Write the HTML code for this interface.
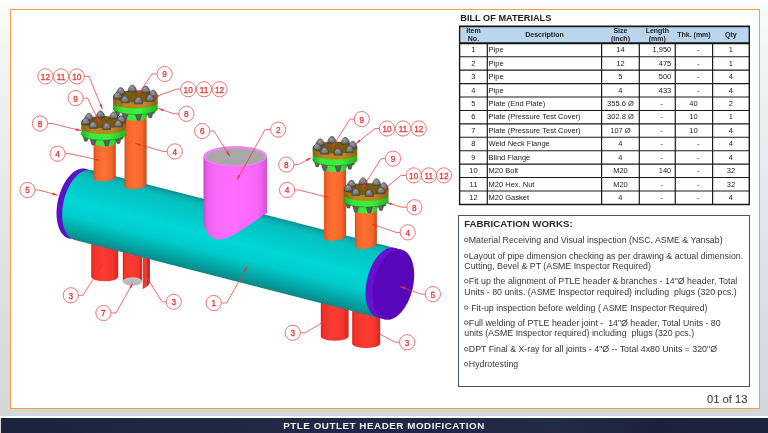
<!DOCTYPE html><html><head><meta charset="utf-8"><style>
*{margin:0;padding:0;box-sizing:border-box}
html,body{width:768px;height:433px;overflow:hidden}
body{position:relative;font-family:"Liberation Sans", sans-serif;background:linear-gradient(to bottom,#fefefe 0px,#fafbfb 12px,#f4f5f5 45px,#e9ebec 150px,#e2e5e6 220px,#d8dcdd 330px,#d3d7d8 415px,#d3d7d8 433px)}
.wrap{position:absolute;left:0;top:0;width:768px;height:433px;will-change:transform}
.abs{position:absolute;white-space:nowrap}
.frame{position:absolute;left:9.5px;top:8.5px;width:750.5px;height:400px;border:1.7px solid #f89d44;background:#ffffff}
.wline{position:absolute;left:0;top:415.5px;width:768px;height:2.5px;background:#ffffff}
.bar{position:absolute;left:1px;top:418px;width:767px;height:15px;background:linear-gradient(to right,#1c2340 0%,#212946 35%,#1f2744 55%,#232b4a 72%,#1c223e 86%,#1d2442 100%)}
.bartxt{position:absolute;left:0;top:418px;width:768px;text-align:center;color:#f2f2f2;font-weight:bold;font-size:9.8px;letter-spacing:0.54px;line-height:15px;padding-left:0px}
.tt{position:absolute;font-size:7.5px;color:#222;line-height:8px;white-space:nowrap}
.th{position:absolute;font-size:7px;font-weight:bold;color:#222;line-height:8.2px;text-align:center;white-space:nowrap}
.bul{display:inline-block;width:4.5px;height:1px}
.fab{position:absolute;font-size:8.8px;color:#363636;white-space:nowrap;line-height:10.5px}
</style></head><body><div class="wrap">
<div class="frame"></div>
<div class="wline"></div>
<div class="bar"></div>
<div class="bartxt">PTLE OUTLET HEADER MODIFICATION</div>
<div class="abs" style="left:460.3px;top:13.2px;font-size:9.2px;font-weight:bold;color:#1a1a1a;line-height:11px">BILL OF MATERIALS</div>
<svg class="abs" style="left:0;top:0" width="768" height="433" viewBox="0 0 768 433">
<rect x="459.60" y="25.80" width="289.70" height="17.50" fill="#bad5ee"/>
<line x1="459.00" y1="26.40" x2="749.90" y2="26.40" stroke="#1a1a1a" stroke-width="1.8"/>
<line x1="459.60" y1="43.30" x2="749.30" y2="43.30" stroke="#111" stroke-width="2"/>
<line x1="459.60" y1="56.73" x2="749.30" y2="56.73" stroke="#1a1a1a" stroke-width="1.1"/>
<line x1="459.60" y1="70.15" x2="749.30" y2="70.15" stroke="#1a1a1a" stroke-width="1.1"/>
<line x1="459.60" y1="83.58" x2="749.30" y2="83.58" stroke="#1a1a1a" stroke-width="1.1"/>
<line x1="459.60" y1="97.00" x2="749.30" y2="97.00" stroke="#1a1a1a" stroke-width="1.1"/>
<line x1="459.60" y1="110.43" x2="749.30" y2="110.43" stroke="#1a1a1a" stroke-width="1.1"/>
<line x1="459.60" y1="123.85" x2="749.30" y2="123.85" stroke="#1a1a1a" stroke-width="1.1"/>
<line x1="459.60" y1="137.28" x2="749.30" y2="137.28" stroke="#1a1a1a" stroke-width="1.1"/>
<line x1="459.60" y1="150.70" x2="749.30" y2="150.70" stroke="#1a1a1a" stroke-width="1.1"/>
<line x1="459.60" y1="164.12" x2="749.30" y2="164.12" stroke="#1a1a1a" stroke-width="1.1"/>
<line x1="459.60" y1="177.55" x2="749.30" y2="177.55" stroke="#1a1a1a" stroke-width="1.1"/>
<line x1="459.60" y1="190.98" x2="749.30" y2="190.98" stroke="#1a1a1a" stroke-width="1.1"/>
<line x1="458.90" y1="204.40" x2="750.00" y2="204.40" stroke="#1a1a1a" stroke-width="1.5"/>
<line x1="459.60" y1="25.80" x2="459.60" y2="204.40" stroke="#1a1a1a" stroke-width="1.4"/>
<line x1="749.30" y1="25.80" x2="749.30" y2="204.40" stroke="#1a1a1a" stroke-width="1.4"/>
<line x1="487.30" y1="43.30" x2="487.30" y2="204.40" stroke="#1a1a1a" stroke-width="1.2"/>
<line x1="601.60" y1="43.30" x2="601.60" y2="204.40" stroke="#1a1a1a" stroke-width="1.2"/>
<line x1="639.30" y1="43.30" x2="639.30" y2="204.40" stroke="#1a1a1a" stroke-width="1.2"/>
<line x1="675.30" y1="43.30" x2="675.30" y2="204.40" stroke="#1a1a1a" stroke-width="1.2"/>
<line x1="712.60" y1="43.30" x2="712.60" y2="204.40" stroke="#1a1a1a" stroke-width="1.2"/>
</svg>
<div class="th" style="left:459.60px;width:27.70px;top:26.60px">Item<br>No.</div>
<div class="th" style="left:487.30px;width:114.30px;top:30.60px">Description</div>
<div class="th" style="left:601.60px;width:37.70px;top:26.60px">Size<br>(inch)</div>
<div class="th" style="left:639.30px;width:36.00px;top:26.60px">Length<br>(mm)</div>
<div class="th" style="left:675.30px;width:37.30px;top:30.60px">Thk. (mm)</div>
<div class="th" style="left:712.60px;width:36.70px;top:30.60px">Qty</div>
<div class="tt" style="left:459.60px;width:27.70px;top:46.30px;text-align:center">1</div>
<div class="tt" style="left:488.60px;top:46.30px">Pipe</div>
<div class="tt" style="left:601.60px;width:37.70px;top:46.30px;text-align:center">14</div>
<div class="tt" style="left:639.30px;width:32.00px;top:46.30px;text-align:right">1,950</div>
<div class="tt" style="left:688.20px;width:20px;top:46.30px;text-align:center">-</div>
<div class="tt" style="left:712.60px;width:36.70px;top:46.30px;text-align:center">1</div>
<div class="tt" style="left:459.60px;width:27.70px;top:59.73px;text-align:center">2</div>
<div class="tt" style="left:488.60px;top:59.73px">Pipe</div>
<div class="tt" style="left:601.60px;width:37.70px;top:59.73px;text-align:center">12</div>
<div class="tt" style="left:639.30px;width:32.00px;top:59.73px;text-align:right">475</div>
<div class="tt" style="left:688.20px;width:20px;top:59.73px;text-align:center">-</div>
<div class="tt" style="left:712.60px;width:36.70px;top:59.73px;text-align:center">1</div>
<div class="tt" style="left:459.60px;width:27.70px;top:73.15px;text-align:center">3</div>
<div class="tt" style="left:488.60px;top:73.15px">Pipe</div>
<div class="tt" style="left:601.60px;width:37.70px;top:73.15px;text-align:center">5</div>
<div class="tt" style="left:639.30px;width:32.00px;top:73.15px;text-align:right">500</div>
<div class="tt" style="left:688.20px;width:20px;top:73.15px;text-align:center">-</div>
<div class="tt" style="left:712.60px;width:36.70px;top:73.15px;text-align:center">4</div>
<div class="tt" style="left:459.60px;width:27.70px;top:86.58px;text-align:center">4</div>
<div class="tt" style="left:488.60px;top:86.58px">Pipe</div>
<div class="tt" style="left:601.60px;width:37.70px;top:86.58px;text-align:center">4</div>
<div class="tt" style="left:639.30px;width:32.00px;top:86.58px;text-align:right">433</div>
<div class="tt" style="left:688.20px;width:20px;top:86.58px;text-align:center">-</div>
<div class="tt" style="left:712.60px;width:36.70px;top:86.58px;text-align:center">4</div>
<div class="tt" style="left:459.60px;width:27.70px;top:100.00px;text-align:center">5</div>
<div class="tt" style="left:488.60px;top:100.00px">Plate (End Plate)</div>
<div class="tt" style="left:601.60px;width:37.70px;top:100.00px;text-align:center">355.6 &Oslash;</div>
<div class="tt" style="left:651.50px;width:20px;top:100.00px;text-align:center">-</div>
<div class="tt" style="left:683.40px;width:20px;top:100.00px;text-align:center">40</div>
<div class="tt" style="left:712.60px;width:36.70px;top:100.00px;text-align:center">2</div>
<div class="tt" style="left:459.60px;width:27.70px;top:113.43px;text-align:center">6</div>
<div class="tt" style="left:488.60px;top:113.43px">Plate (Pressure Test Cover)</div>
<div class="tt" style="left:601.60px;width:37.70px;top:113.43px;text-align:center">302.8 &Oslash;</div>
<div class="tt" style="left:651.50px;width:20px;top:113.43px;text-align:center">-</div>
<div class="tt" style="left:683.40px;width:20px;top:113.43px;text-align:center">10</div>
<div class="tt" style="left:712.60px;width:36.70px;top:113.43px;text-align:center">1</div>
<div class="tt" style="left:459.60px;width:27.70px;top:126.85px;text-align:center">7</div>
<div class="tt" style="left:488.60px;top:126.85px">Plate (Pressure Test Cover)</div>
<div class="tt" style="left:601.60px;width:37.70px;top:126.85px;text-align:center">107 &Oslash;</div>
<div class="tt" style="left:651.50px;width:20px;top:126.85px;text-align:center">-</div>
<div class="tt" style="left:683.40px;width:20px;top:126.85px;text-align:center">10</div>
<div class="tt" style="left:712.60px;width:36.70px;top:126.85px;text-align:center">4</div>
<div class="tt" style="left:459.60px;width:27.70px;top:140.28px;text-align:center">8</div>
<div class="tt" style="left:488.60px;top:140.28px">Weld Neck Flange</div>
<div class="tt" style="left:601.60px;width:37.70px;top:140.28px;text-align:center">4</div>
<div class="tt" style="left:651.50px;width:20px;top:140.28px;text-align:center">-</div>
<div class="tt" style="left:688.20px;width:20px;top:140.28px;text-align:center">-</div>
<div class="tt" style="left:712.60px;width:36.70px;top:140.28px;text-align:center">4</div>
<div class="tt" style="left:459.60px;width:27.70px;top:153.70px;text-align:center">9</div>
<div class="tt" style="left:488.60px;top:153.70px">Blind Flange</div>
<div class="tt" style="left:601.60px;width:37.70px;top:153.70px;text-align:center">4</div>
<div class="tt" style="left:651.50px;width:20px;top:153.70px;text-align:center">-</div>
<div class="tt" style="left:688.20px;width:20px;top:153.70px;text-align:center">-</div>
<div class="tt" style="left:712.60px;width:36.70px;top:153.70px;text-align:center">4</div>
<div class="tt" style="left:459.60px;width:27.70px;top:167.12px;text-align:center">10</div>
<div class="tt" style="left:488.60px;top:167.12px">M20 Bolt</div>
<div class="tt" style="left:601.60px;width:37.70px;top:167.12px;text-align:center">M20</div>
<div class="tt" style="left:639.30px;width:32.00px;top:167.12px;text-align:right">140</div>
<div class="tt" style="left:688.20px;width:20px;top:167.12px;text-align:center">-</div>
<div class="tt" style="left:712.60px;width:36.70px;top:167.12px;text-align:center">32</div>
<div class="tt" style="left:459.60px;width:27.70px;top:180.55px;text-align:center">11</div>
<div class="tt" style="left:488.60px;top:180.55px">M20 Hex. Nut</div>
<div class="tt" style="left:601.60px;width:37.70px;top:180.55px;text-align:center">M20</div>
<div class="tt" style="left:651.50px;width:20px;top:180.55px;text-align:center">-</div>
<div class="tt" style="left:688.20px;width:20px;top:180.55px;text-align:center">-</div>
<div class="tt" style="left:712.60px;width:36.70px;top:180.55px;text-align:center">32</div>
<div class="tt" style="left:459.60px;width:27.70px;top:193.98px;text-align:center">12</div>
<div class="tt" style="left:488.60px;top:193.98px">M20 Gasket</div>
<div class="tt" style="left:601.60px;width:37.70px;top:193.98px;text-align:center">4</div>
<div class="tt" style="left:651.50px;width:20px;top:193.98px;text-align:center">-</div>
<div class="tt" style="left:688.20px;width:20px;top:193.98px;text-align:center">-</div>
<div class="tt" style="left:712.60px;width:36.70px;top:193.98px;text-align:center">4</div>
<div class="abs" style="left:458.2px;top:215.3px;width:291.8px;height:172.2px;border:1.5px solid #4d5170"></div>
<div class="abs" style="left:464.2px;top:218.3px;font-size:9.7px;font-weight:bold;color:#2a2a2a;line-height:11px">FABRICATION WORKS:</div>
<div class="fab" style="left:464.3px;top:234.80px"><i class="bul"></i>Material Receiving and Visual inspection (NSC, ASME &amp; Yansab)</div>
<div class="fab" style="left:464.3px;top:250.70px"><i class="bul"></i>Layout of pipe dimension checking as per drawing &amp; actual dimension.</div>
<div class="fab" style="left:464.3px;top:261.00px">Cutting, Bevel &amp; PT (ASME Inspector Required)</div>
<div class="fab" style="left:464.3px;top:276.10px"><i class="bul"></i>Fit up the alignment of PTLE header &amp; branches - 14&quot;&Oslash; header, Total</div>
<div class="fab" style="left:464.3px;top:286.70px">Units - 80 units. (ASME Inspector required) including&nbsp; plugs (320 pcs.)</div>
<div class="fab" style="left:464.3px;top:302.50px"><i class="bul"></i> Fit-up inspection before welding ( ASME Inspector Required)</div>
<div class="fab" style="left:464.3px;top:317.50px"><i class="bul"></i>Full welding of PTLE header joint -&nbsp; 14&quot;&Oslash; header, Total Units - 80</div>
<div class="fab" style="left:464.3px;top:327.90px">units (ASME Inspector required) including&nbsp; plugs (320 pcs.)</div>
<div class="fab" style="left:464.3px;top:344.10px"><i class="bul"></i>DPT Final &amp; X-ray for all joints - 4&quot;&Oslash; -- Total 4x80 Units = 320&quot;&Oslash;</div>
<div class="fab" style="left:464.3px;top:359.10px"><i class="bul"></i>Hydrotesting</div>
<svg class="abs" style="left:0;top:0" width="768" height="433" viewBox="0 0 768 433"><circle cx="466.2" cy="239.90" r="1.75" fill="none" stroke="#4a4a4a" stroke-width="0.85"/><circle cx="466.2" cy="255.80" r="1.75" fill="none" stroke="#4a4a4a" stroke-width="0.85"/><circle cx="466.2" cy="281.20" r="1.75" fill="none" stroke="#4a4a4a" stroke-width="0.85"/><circle cx="466.2" cy="307.60" r="1.75" fill="none" stroke="#4a4a4a" stroke-width="0.85"/><circle cx="466.2" cy="322.60" r="1.75" fill="none" stroke="#4a4a4a" stroke-width="0.85"/><circle cx="466.2" cy="349.20" r="1.75" fill="none" stroke="#4a4a4a" stroke-width="0.85"/><circle cx="466.2" cy="364.20" r="1.75" fill="none" stroke="#4a4a4a" stroke-width="0.85"/></svg>
<div class="abs" style="right:20.6px;top:393.4px;font-size:11.2px;color:#474747;line-height:13px;-webkit-text-stroke:0.15px #474747">01 of 13</div>
<svg style="position:absolute;left:0;top:0" width="768" height="433" viewBox="0 0 768 433">
<defs>
<linearGradient id="gRed" x1="0" y1="0" x2="1" y2="0"><stop offset="0" stop-color="#d8241e"/><stop offset="0.1" stop-color="#f2322a"/><stop offset="0.45" stop-color="#fd3c34"/><stop offset="0.8" stop-color="#f5352c"/><stop offset="1" stop-color="#d2261e"/></linearGradient>
<linearGradient id="gOr" x1="0" y1="0" x2="1" y2="0"><stop offset="0" stop-color="#d9521e"/><stop offset="0.15" stop-color="#f56628"/><stop offset="0.45" stop-color="#ff7234"/><stop offset="0.8" stop-color="#f4662a"/><stop offset="1" stop-color="#c84a18"/></linearGradient>
<linearGradient id="gMag" x1="0" y1="0" x2="1" y2="0"><stop offset="0" stop-color="#c84ac8"/><stop offset="0.06" stop-color="#ec5eec"/><stop offset="0.18" stop-color="#fa68fa"/><stop offset="0.5" stop-color="#ff6eff"/><stop offset="0.85" stop-color="#f866f8"/><stop offset="1" stop-color="#d650d6"/></linearGradient>
<linearGradient id="gTeal" gradientUnits="userSpaceOnUse" x1="208.8" y1="200.3" x2="191" y2="270.1"><stop offset="0" stop-color="#0c8e8e"/><stop offset="0.05" stop-color="#0aaeae"/><stop offset="0.12" stop-color="#06c0c0"/><stop offset="0.25" stop-color="#02c8c8"/><stop offset="0.48" stop-color="#00d6d6"/><stop offset="0.68" stop-color="#00cccc"/><stop offset="0.85" stop-color="#00aaaa"/><stop offset="1" stop-color="#0c8686"/></linearGradient>
<linearGradient id="gGreen" x1="0" y1="0" x2="1" y2="0"><stop offset="0" stop-color="#20b020"/><stop offset="0.2" stop-color="#38e838"/><stop offset="0.6" stop-color="#40f040"/><stop offset="1" stop-color="#22b422"/></linearGradient>
<linearGradient id="gBrSide" x1="0" y1="0" x2="1" y2="0"><stop offset="0" stop-color="#8c6212"/><stop offset="0.25" stop-color="#b4881e"/><stop offset="0.7" stop-color="#b88a20"/><stop offset="1" stop-color="#8c6212"/></linearGradient>
<radialGradient id="gBolt" cx="0.4" cy="0.35" r="0.7"><stop offset="0" stop-color="#a0a0a0"/><stop offset="0.6" stop-color="#707070"/><stop offset="1" stop-color="#505050"/></radialGradient>
</defs>
<path d="M91.2,230 L91.2,276.5 A13.5,4.8 0 0 0 118.2,276.5 L118.2,230 Z" fill="url(#gRed)" />
<path d="M122.8,232 L122.8,281.6 L142.2,281.6 L142.2,232 Z" fill="url(#gRed)"/>
<path d="M142.2,232 L142.2,289.2 Q147.5,287.2 149.8,282.2 L149.8,232 Z" fill="#e83a32"/>
<path d="M149.8,240 L149.8,282.2 Q148.6,285 147.2,286.5 L147.2,240 Z" fill="#c42a24"/>
<ellipse cx="132.5" cy="281.6" rx="9.7" ry="4.2" fill="#bcbcbc"/>
<path d="M123.4,281.6 A9.1,3.6 0 0 1 141.6,281.6" fill="none" stroke="#d0d0d0" stroke-width="0.8"/>
<path d="M142.5,250 L142.5,289" stroke="#f0d0d0" stroke-width="0.9"/>
<path d="M320.8,280 L320.8,336.2 A13.9,4.6 0 0 0 348.6,336.2 L348.6,280 Z" fill="url(#gRed)" />
<path d="M352.2,290 L352.2,343.4 A14,4.6 0 0 0 380.2,343.4 L380.2,290 Z" fill="url(#gRed)" />
<path d="M85.72,168.68 L87.36,169.21 L88.92,170 L90.4,171.05 L91.77,172.34 L93.04,173.88 L94.19,175.64 L95.21,177.61 L96.09,179.78 L96.83,182.13 L97.43,184.65 L97.87,187.31 L98.16,190.09 L98.28,192.98 L98.25,195.95 L98.06,198.97 L97.72,202.03 L97.22,205.1 L96.56,208.17 L95.77,211.19 L94.83,214.16 L93.76,217.05 L92.56,219.83 L91.25,222.5 L89.84,225.02 L88.33,227.37 L86.73,229.55 L85.07,231.52 L83.34,233.29 L81.58,234.83 L79.78,236.13 L77.96,237.18 L76.14,237.98 L74.32,238.51 L72.53,238.78 L70.78,238.79 L69.08,238.52 L67.44,237.99 L65.88,237.2 L64.4,236.15 L63.03,234.86 L61.76,233.32 L60.61,231.56 L59.59,229.59 L58.71,227.42 L57.97,225.07 L57.37,222.55 L56.93,219.89 L56.64,217.11 L56.52,214.22 L56.55,211.25 L56.74,208.23 L57.08,205.17 L57.58,202.1 L58.24,199.03 L59.03,196.01 L59.97,193.04 L61.04,190.15 L62.24,187.37 L63.55,184.7 L64.96,182.18 L66.47,179.83 L68.07,177.65 L69.73,175.68 L71.46,173.91 L73.22,172.37 L75.02,171.07 L76.84,170.02 L78.66,169.22 L80.48,168.69 L82.27,168.42 L84.02,168.41Z" fill="#5c10c8"/>
<path d="M91.34,170.11 L394.84,247.94 L378.2,317.79 L74.7,239.96 L74.04,239.78 L73.38,239.56 L72.74,239.29 L72.11,238.98 L71.5,238.64 L70.9,238.25 L70.31,237.82 L69.74,237.35 L69.19,236.84 L68.65,236.29 L68.13,235.71 L67.62,235.08 L67.14,234.42 L66.68,233.73 L66.23,233 L65.81,232.23 L65.41,231.44 L65.02,230.61 L64.67,229.74 L64.33,228.85 L64.01,227.93 L63.72,226.99 L63.46,226.01 L63.21,225.01 L62.99,223.99 L62.8,222.94 L62.63,221.87 L62.48,220.78 L62.36,219.67 L62.26,218.54 L62.19,217.4 L62.15,216.24 L62.13,215.07 L62.13,213.89 L62.17,212.69 L62.22,211.49 L62.31,210.27 L62.41,209.05 L62.54,207.83 L62.7,206.6 L62.88,205.38 L63.09,204.15 L63.32,202.92 L63.58,201.69 L63.86,200.47 L64.16,199.25 L64.48,198.05 L64.83,196.85 L65.2,195.65 L65.59,194.48 L66,193.31 L66.44,192.16 L66.89,191.02 L67.36,189.9 L67.86,188.8 L68.37,187.72 L68.9,186.66 L69.44,185.62 L70,184.61 L70.58,183.62 L71.18,182.66 L71.78,181.72 L72.41,180.82 L73.04,179.94 L73.69,179.09 L74.35,178.28 L75.01,177.49 L75.69,176.74 L76.38,176.03 L77.07,175.35 L77.78,174.71 L78.49,174.1 L79.2,173.53 L79.92,173 L80.64,172.51 L81.37,172.06 L82.1,171.65 L82.83,171.28 L83.55,170.95 L84.28,170.66 L85.01,170.41 L85.73,170.21 L86.46,170.05 L87.17,169.93 L87.89,169.85 L88.59,169.82 L89.29,169.83 L89.98,169.88 L90.67,169.98 L91.34,170.11Z" fill="url(#gTeal)"/>
<path d="M394.84,247.94 L395.5,248.12 L396.15,248.35 L396.8,248.61 L397.42,248.92 L398.04,249.27 L398.64,249.66 L399.23,250.09 L399.8,250.56 L400.35,251.06 L400.89,251.61 L401.41,252.2 L401.91,252.82 L402.4,253.48 L402.86,254.18 L403.3,254.91 L403.73,255.67 L404.13,256.47 L404.51,257.3 L404.87,258.16 L405.21,259.05 L405.52,259.97 L405.81,260.92 L406.08,261.89 L406.33,262.89 L406.55,263.92 L406.74,264.96 L406.91,266.03 L407.06,267.12 L407.18,268.23 L407.27,269.36 L407.34,270.5 L407.39,271.66 L407.41,272.83 L407.4,274.02 L407.37,275.21 L407.31,276.42 L407.23,277.63 L407.12,278.85 L406.99,280.07 L406.83,281.3 L406.65,282.53 L406.45,283.76 L406.22,284.99 L405.96,286.21 L405.68,287.43 L405.38,288.65 L405.05,289.86 L404.71,291.06 L404.34,292.25 L403.95,293.43 L403.53,294.59 L403.1,295.75 L402.65,296.88 L402.17,298 L401.68,299.1 L401.17,300.18 L400.64,301.24 L400.09,302.28 L399.53,303.29 L398.95,304.28 L398.36,305.24 L397.75,306.18 L397.13,307.09 L396.5,307.96 L395.85,308.81 L395.19,309.63 L394.52,310.41 L393.85,311.16 L393.16,311.87 L392.46,312.55 L391.76,313.2 L391.05,313.8 L390.34,314.37 L389.62,314.9 L388.89,315.39 L388.17,315.85 L387.44,316.26 L386.71,316.63 L385.98,316.96 L385.25,317.24 L384.53,317.49 L383.8,317.7 L383.08,317.86 L382.36,317.98 L381.65,318.05 L380.95,318.08 L380.25,318.08 L379.56,318.02 L378.87,317.93 L378.2,317.79 L377.53,317.61 L376.88,317.39 L376.24,317.12 L375.61,316.81 L375,316.47 L374.4,316.08 L373.81,315.65 L373.24,315.18 L372.68,314.67 L372.15,314.12 L371.62,313.54 L371.12,312.91 L370.64,312.25 L370.17,311.56 L369.73,310.83 L369.31,310.06 L368.9,309.27 L368.52,308.44 L368.16,307.58 L367.83,306.68 L367.51,305.76 L367.22,304.82 L366.95,303.84 L366.71,302.84 L366.49,301.82 L366.29,300.77 L366.12,299.7 L365.98,298.61 L365.86,297.5 L365.76,296.37 L365.69,295.23 L365.65,294.07 L365.63,292.9 L365.63,291.72 L365.66,290.52 L365.72,289.32 L365.8,288.1 L365.91,286.89 L366.04,285.66 L366.2,284.43 L366.38,283.21 L366.59,281.98 L366.82,280.75 L367.08,279.52 L367.35,278.3 L367.66,277.09 L367.98,275.88 L368.33,274.68 L368.7,273.49 L369.09,272.31 L369.5,271.14 L369.94,269.99 L370.39,268.85 L370.86,267.73 L371.36,266.63 L371.87,265.55 L372.39,264.49 L372.94,263.45 L373.5,262.44 L374.08,261.45 L374.67,260.49 L375.28,259.55 L375.9,258.65 L376.54,257.77 L377.19,256.92 L377.84,256.11 L378.51,255.32 L379.19,254.57 L379.88,253.86 L380.57,253.18 L381.28,252.54 L381.98,251.93 L382.7,251.36 L383.42,250.83 L384.14,250.34 L384.87,249.89 L385.59,249.48 L386.32,249.11 L387.05,248.78 L387.78,248.49 L388.51,248.24 L389.23,248.04 L389.95,247.88 L390.67,247.76 L391.38,247.68 L392.09,247.65 L392.79,247.66 L393.48,247.71 L394.16,247.81Z" fill="#6412d0"/>
<path d="M394.84,247.94 L401.62,249.68 L384.98,319.52 L378.2,317.79Z" fill="#6412d0"/>
<path d="M401.62,249.68 L402.28,249.86 L402.94,250.08 L403.58,250.35 L404.21,250.65 L404.82,251 L405.42,251.39 L406.01,251.82 L406.58,252.29 L407.13,252.8 L407.67,253.34 L408.19,253.93 L408.7,254.55 L409.18,255.21 L409.64,255.91 L410.09,256.64 L410.51,257.4 L410.91,258.2 L411.29,259.03 L411.65,259.89 L411.99,260.78 L412.31,261.7 L412.6,262.65 L412.86,263.62 L413.11,264.62 L413.33,265.65 L413.52,266.7 L413.69,267.77 L413.84,268.86 L413.96,269.97 L414.06,271.09 L414.13,272.24 L414.17,273.39 L414.19,274.57 L414.18,275.75 L414.15,276.95 L414.1,278.15 L414.01,279.36 L413.91,280.58 L413.77,281.8 L413.62,283.03 L413.44,284.26 L413.23,285.49 L413,286.72 L412.74,287.94 L412.46,289.17 L412.16,290.38 L411.84,291.59 L411.49,292.79 L411.12,293.98 L410.73,295.16 L410.32,296.33 L409.88,297.48 L409.43,298.61 L408.95,299.73 L408.46,300.83 L407.95,301.92 L407.42,302.98 L406.88,304.01 L406.31,305.03 L405.74,306.02 L405.14,306.98 L404.54,307.91 L403.91,308.82 L403.28,309.7 L402.63,310.55 L401.97,311.36 L401.31,312.14 L400.63,312.89 L399.94,313.61 L399.24,314.29 L398.54,314.93 L397.83,315.54 L397.12,316.11 L396.4,316.64 L395.68,317.13 L394.95,317.58 L394.22,317.99 L393.49,318.36 L392.76,318.69 L392.04,318.98 L391.31,319.22 L390.58,319.43 L389.86,319.59 L389.15,319.71 L388.43,319.78 L387.73,319.82 L387.03,319.81 L386.34,319.76 L385.65,319.66 L384.98,319.52 L384.32,319.34 L383.66,319.12 L383.02,318.85 L382.39,318.55 L381.78,318.2 L381.18,317.81 L380.59,317.38 L380.02,316.91 L379.47,316.4 L378.93,315.86 L378.41,315.27 L377.9,314.65 L377.42,313.99 L376.96,313.29 L376.51,312.56 L376.09,311.8 L375.69,311 L375.31,310.17 L374.95,309.31 L374.61,308.42 L374.29,307.5 L374,306.55 L373.74,305.58 L373.49,304.58 L373.27,303.55 L373.08,302.5 L372.91,301.43 L372.76,300.34 L372.64,299.23 L372.54,298.11 L372.47,296.96 L372.43,295.81 L372.41,294.63 L372.42,293.45 L372.45,292.25 L372.5,291.05 L372.59,289.84 L372.69,288.62 L372.83,287.4 L372.98,286.17 L373.16,284.94 L373.37,283.71 L373.6,282.48 L373.86,281.26 L374.14,280.03 L374.44,278.82 L374.76,277.61 L375.11,276.41 L375.48,275.22 L375.87,274.04 L376.28,272.87 L376.72,271.72 L377.17,270.59 L377.65,269.47 L378.14,268.37 L378.65,267.28 L379.18,266.22 L379.72,265.19 L380.29,264.17 L380.86,263.18 L381.46,262.22 L382.06,261.29 L382.69,260.38 L383.32,259.5 L383.97,258.65 L384.63,257.84 L385.29,257.06 L385.97,256.31 L386.66,255.59 L387.36,254.91 L388.06,254.27 L388.77,253.66 L389.48,253.09 L390.2,252.56 L390.92,252.07 L391.65,251.62 L392.38,251.21 L393.11,250.84 L393.84,250.51 L394.56,250.22 L395.29,249.98 L396.02,249.77 L396.74,249.61 L397.45,249.49 L398.17,249.42 L398.87,249.38 L399.57,249.39 L400.26,249.44 L400.95,249.54Z" fill="#5806ba"/>
<path d="M124.5,115 L124.5,186.4 A11.05,4 -6.97 0 0 146.6,183.7 L146.6,115 Z" fill="url(#gOr)"/>
<path d="M120.4,108.4 L124.5,117.4 A11.05,3.4 0 0 0 146.6,117.4 L150.4,108.4 Z" fill="url(#gGreen)"/>
<path d="M114.37,109.14 L120.97,109.14 L118.97,115.44 L116.37,115.44 Z" fill="#5e5e5e" stroke="#3a3a3a" stroke-width="0.5"/>
<path d="M121.78,113.01 L128.38,113.01 L126.38,119.31 L123.78,119.31 Z" fill="#5e5e5e" stroke="#3a3a3a" stroke-width="0.5"/>
<path d="M135.23,114.01 L141.83,114.01 L139.83,120.31 L137.23,120.31 Z" fill="#5e5e5e" stroke="#3a3a3a" stroke-width="0.5"/>
<path d="M146.84,111.54 L153.44,111.54 L151.44,117.84 L148.84,117.84 Z" fill="#5e5e5e" stroke="#3a3a3a" stroke-width="0.5"/>
<path d="M149.83,107.06 L156.43,107.06 L154.43,113.36 L151.83,113.36 Z" fill="#5e5e5e" stroke="#3a3a3a" stroke-width="0.5"/>
<path d="M113.1,102.4 L113.1,108.4 A22.3,6.1 0 0 0 157.7,108.4 L157.7,102.4 Z" fill="url(#gGreen)"/>
<path d="M113.1,108.4 A22.3,6.1 0 0 0 157.7,108.4" fill="none" stroke="#1e8a1e" stroke-width="0.6"/>
<path d="M113.1,96.4 L113.1,102.4 A22.3,6.1 0 0 0 157.7,102.4 L157.7,96.4 Z" fill="url(#gBrSide)"/>
<ellipse cx="135.4" cy="96.4" rx="22.3" ry="6.1" fill="#7a5810"/>
<path d="M128.27,92.04 L136.27,92.04 L136.27,89.84 C136.07,87.84 134.07,85.04 132.27,85.04 C130.47,85.04 128.47,87.84 128.27,89.84 Z" fill="url(#gBolt)" stroke="#3e3e3e" stroke-width="0.55"/>
<path d="M129.17,89.64 L135.37,89.64" stroke="#8e8e8e" stroke-width="0.6"/>
<path d="M141.72,93.04 L149.72,93.04 L149.72,90.84 C149.52,88.84 147.52,86.04 145.72,86.04 C143.92,86.04 141.92,88.84 141.72,90.84 Z" fill="url(#gBolt)" stroke="#3e3e3e" stroke-width="0.55"/>
<path d="M142.62,90.64 L148.82,90.64" stroke="#8e8e8e" stroke-width="0.6"/>
<path d="M116.66,94.51 L124.66,94.51 L124.66,92.31 C124.46,90.31 122.46,87.51 120.66,87.51 C118.86,87.51 116.86,90.31 116.66,92.31 Z" fill="url(#gBolt)" stroke="#3e3e3e" stroke-width="0.55"/>
<path d="M117.56,92.11 L123.76,92.11" stroke="#8e8e8e" stroke-width="0.6"/>
<path d="M149.13,96.91 L157.13,96.91 L157.13,94.71 C156.93,92.71 154.93,89.91 153.13,89.91 C151.33,89.91 149.33,92.71 149.13,94.71 Z" fill="url(#gBolt)" stroke="#3e3e3e" stroke-width="0.55"/>
<path d="M150.03,94.51 L156.23,94.51" stroke="#8e8e8e" stroke-width="0.6"/>
<path d="M113.67,98.99 L121.67,98.99 L121.67,96.79 C121.47,94.79 119.47,91.99 117.67,91.99 C115.87,91.99 113.87,94.79 113.67,96.79 Z" fill="url(#gBolt)" stroke="#3e3e3e" stroke-width="0.55"/>
<path d="M114.57,96.59 L120.77,96.59" stroke="#8e8e8e" stroke-width="0.6"/>
<path d="M146.14,101.39 L154.14,101.39 L154.14,99.19 C153.94,97.19 151.94,94.39 150.14,94.39 C148.34,94.39 146.34,97.19 146.14,99.19 Z" fill="url(#gBolt)" stroke="#3e3e3e" stroke-width="0.55"/>
<path d="M147.04,98.99 L153.24,98.99" stroke="#8e8e8e" stroke-width="0.6"/>
<path d="M121.08,102.86 L129.08,102.86 L129.08,100.66 C128.88,98.66 126.88,95.86 125.08,95.86 C123.28,95.86 121.28,98.66 121.08,100.66 Z" fill="url(#gBolt)" stroke="#3e3e3e" stroke-width="0.55"/>
<path d="M121.98,100.46 L128.18,100.46" stroke="#8e8e8e" stroke-width="0.6"/>
<path d="M134.53,103.86 L142.53,103.86 L142.53,101.66 C142.33,99.66 140.33,96.86 138.53,96.86 C136.73,96.86 134.73,99.66 134.53,101.66 Z" fill="url(#gBolt)" stroke="#3e3e3e" stroke-width="0.55"/>
<path d="M135.43,101.46 L141.63,101.46" stroke="#8e8e8e" stroke-width="0.6"/>
<path d="M93.6,140 L93.6,178.8 A11.1,3.6 -5.4 0 0 115.8,176.7 L115.8,140 Z" fill="url(#gOr)"/>
<path d="M88.6,134.1 L93.6,143.1 A11.1,3.4 0 0 0 115.8,143.1 L118.6,134.1 Z" fill="url(#gGreen)"/>
<path d="M82.57,134.84 L89.17,134.84 L87.17,141.14 L84.57,141.14 Z" fill="#5e5e5e" stroke="#3a3a3a" stroke-width="0.5"/>
<path d="M89.98,138.71 L96.58,138.71 L94.58,145.01 L91.98,145.01 Z" fill="#5e5e5e" stroke="#3a3a3a" stroke-width="0.5"/>
<path d="M103.43,139.71 L110.03,139.71 L108.03,146.01 L105.43,146.01 Z" fill="#5e5e5e" stroke="#3a3a3a" stroke-width="0.5"/>
<path d="M115.04,137.24 L121.64,137.24 L119.64,143.54 L117.04,143.54 Z" fill="#5e5e5e" stroke="#3a3a3a" stroke-width="0.5"/>
<path d="M118.03,132.76 L124.63,132.76 L122.63,139.06 L120.03,139.06 Z" fill="#5e5e5e" stroke="#3a3a3a" stroke-width="0.5"/>
<path d="M81.3,128.1 L81.3,134.1 A22.3,6.1 0 0 0 125.9,134.1 L125.9,128.1 Z" fill="url(#gGreen)"/>
<path d="M81.3,134.1 A22.3,6.1 0 0 0 125.9,134.1" fill="none" stroke="#1e8a1e" stroke-width="0.6"/>
<path d="M81.3,122.1 L81.3,128.1 A22.3,6.1 0 0 0 125.9,128.1 L125.9,122.1 Z" fill="url(#gBrSide)"/>
<ellipse cx="103.6" cy="122.1" rx="22.3" ry="6.1" fill="#7a5810"/>
<path d="M96.47,117.74 L104.47,117.74 L104.47,115.54 C104.27,113.54 102.27,110.74 100.47,110.74 C98.67,110.74 96.67,113.54 96.47,115.54 Z" fill="url(#gBolt)" stroke="#3e3e3e" stroke-width="0.55"/>
<path d="M97.37,115.34 L103.57,115.34" stroke="#8e8e8e" stroke-width="0.6"/>
<path d="M109.92,118.74 L117.92,118.74 L117.92,116.54 C117.72,114.54 115.72,111.74 113.92,111.74 C112.12,111.74 110.12,114.54 109.92,116.54 Z" fill="url(#gBolt)" stroke="#3e3e3e" stroke-width="0.55"/>
<path d="M110.82,116.34 L117.02,116.34" stroke="#8e8e8e" stroke-width="0.6"/>
<path d="M84.86,120.21 L92.86,120.21 L92.86,118.01 C92.66,116.01 90.66,113.21 88.86,113.21 C87.06,113.21 85.06,116.01 84.86,118.01 Z" fill="url(#gBolt)" stroke="#3e3e3e" stroke-width="0.55"/>
<path d="M85.76,117.81 L91.96,117.81" stroke="#8e8e8e" stroke-width="0.6"/>
<path d="M117.33,122.61 L125.33,122.61 L125.33,120.41 C125.13,118.41 123.13,115.61 121.33,115.61 C119.53,115.61 117.53,118.41 117.33,120.41 Z" fill="url(#gBolt)" stroke="#3e3e3e" stroke-width="0.55"/>
<path d="M118.23,120.21 L124.43,120.21" stroke="#8e8e8e" stroke-width="0.6"/>
<path d="M81.87,124.69 L89.87,124.69 L89.87,122.49 C89.67,120.49 87.67,117.69 85.87,117.69 C84.07,117.69 82.07,120.49 81.87,122.49 Z" fill="url(#gBolt)" stroke="#3e3e3e" stroke-width="0.55"/>
<path d="M82.77,122.29 L88.97,122.29" stroke="#8e8e8e" stroke-width="0.6"/>
<path d="M114.34,127.09 L122.34,127.09 L122.34,124.89 C122.14,122.89 120.14,120.09 118.34,120.09 C116.54,120.09 114.54,122.89 114.34,124.89 Z" fill="url(#gBolt)" stroke="#3e3e3e" stroke-width="0.55"/>
<path d="M115.24,124.69 L121.44,124.69" stroke="#8e8e8e" stroke-width="0.6"/>
<path d="M89.28,128.56 L97.28,128.56 L97.28,126.36 C97.08,124.36 95.08,121.56 93.28,121.56 C91.48,121.56 89.48,124.36 89.28,126.36 Z" fill="url(#gBolt)" stroke="#3e3e3e" stroke-width="0.55"/>
<path d="M90.18,126.16 L96.38,126.16" stroke="#8e8e8e" stroke-width="0.6"/>
<path d="M102.73,129.56 L110.73,129.56 L110.73,127.36 C110.53,125.36 108.53,122.56 106.73,122.56 C104.93,122.56 102.93,125.36 102.73,127.36 Z" fill="url(#gBolt)" stroke="#3e3e3e" stroke-width="0.55"/>
<path d="M103.63,127.16 L109.83,127.16" stroke="#8e8e8e" stroke-width="0.6"/>
<path d="M324,165 L324,238 A11.05,4.2 -8.49 0 0 346.1,234.7 L346.1,165 Z" fill="url(#gOr)"/>
<path d="M320,159.7 L324,168.7 A11.05,3.4 0 0 0 346.1,168.7 L350,159.7 Z" fill="url(#gGreen)"/>
<path d="M313.97,160.44 L320.57,160.44 L318.57,166.74 L315.97,166.74 Z" fill="#5e5e5e" stroke="#3a3a3a" stroke-width="0.5"/>
<path d="M321.38,164.31 L327.98,164.31 L325.98,170.61 L323.38,170.61 Z" fill="#5e5e5e" stroke="#3a3a3a" stroke-width="0.5"/>
<path d="M334.83,165.31 L341.43,165.31 L339.43,171.61 L336.83,171.61 Z" fill="#5e5e5e" stroke="#3a3a3a" stroke-width="0.5"/>
<path d="M346.44,162.84 L353.04,162.84 L351.04,169.14 L348.44,169.14 Z" fill="#5e5e5e" stroke="#3a3a3a" stroke-width="0.5"/>
<path d="M349.43,158.36 L356.03,158.36 L354.03,164.66 L351.43,164.66 Z" fill="#5e5e5e" stroke="#3a3a3a" stroke-width="0.5"/>
<path d="M312.7,153.7 L312.7,159.7 A22.3,6.1 0 0 0 357.3,159.7 L357.3,153.7 Z" fill="url(#gGreen)"/>
<path d="M312.7,159.7 A22.3,6.1 0 0 0 357.3,159.7" fill="none" stroke="#1e8a1e" stroke-width="0.6"/>
<path d="M312.7,147.7 L312.7,153.7 A22.3,6.1 0 0 0 357.3,153.7 L357.3,147.7 Z" fill="url(#gBrSide)"/>
<ellipse cx="335" cy="147.7" rx="22.3" ry="6.1" fill="#7a5810"/>
<path d="M327.87,143.34 L335.87,143.34 L335.87,141.14 C335.67,139.14 333.67,136.34 331.87,136.34 C330.07,136.34 328.07,139.14 327.87,141.14 Z" fill="url(#gBolt)" stroke="#3e3e3e" stroke-width="0.55"/>
<path d="M328.77,140.94 L334.97,140.94" stroke="#8e8e8e" stroke-width="0.6"/>
<path d="M341.32,144.34 L349.32,144.34 L349.32,142.14 C349.12,140.14 347.12,137.34 345.32,137.34 C343.52,137.34 341.52,140.14 341.32,142.14 Z" fill="url(#gBolt)" stroke="#3e3e3e" stroke-width="0.55"/>
<path d="M342.22,141.94 L348.42,141.94" stroke="#8e8e8e" stroke-width="0.6"/>
<path d="M316.26,145.81 L324.26,145.81 L324.26,143.61 C324.06,141.61 322.06,138.81 320.26,138.81 C318.46,138.81 316.46,141.61 316.26,143.61 Z" fill="url(#gBolt)" stroke="#3e3e3e" stroke-width="0.55"/>
<path d="M317.16,143.41 L323.36,143.41" stroke="#8e8e8e" stroke-width="0.6"/>
<path d="M348.73,148.21 L356.73,148.21 L356.73,146.01 C356.53,144.01 354.53,141.21 352.73,141.21 C350.93,141.21 348.93,144.01 348.73,146.01 Z" fill="url(#gBolt)" stroke="#3e3e3e" stroke-width="0.55"/>
<path d="M349.63,145.81 L355.83,145.81" stroke="#8e8e8e" stroke-width="0.6"/>
<path d="M313.27,150.29 L321.27,150.29 L321.27,148.09 C321.07,146.09 319.07,143.29 317.27,143.29 C315.47,143.29 313.47,146.09 313.27,148.09 Z" fill="url(#gBolt)" stroke="#3e3e3e" stroke-width="0.55"/>
<path d="M314.17,147.89 L320.37,147.89" stroke="#8e8e8e" stroke-width="0.6"/>
<path d="M345.74,152.69 L353.74,152.69 L353.74,150.49 C353.54,148.49 351.54,145.69 349.74,145.69 C347.94,145.69 345.94,148.49 345.74,150.49 Z" fill="url(#gBolt)" stroke="#3e3e3e" stroke-width="0.55"/>
<path d="M346.64,150.29 L352.84,150.29" stroke="#8e8e8e" stroke-width="0.6"/>
<path d="M320.68,154.16 L328.68,154.16 L328.68,151.96 C328.48,149.96 326.48,147.16 324.68,147.16 C322.88,147.16 320.88,149.96 320.68,151.96 Z" fill="url(#gBolt)" stroke="#3e3e3e" stroke-width="0.55"/>
<path d="M321.58,151.76 L327.78,151.76" stroke="#8e8e8e" stroke-width="0.6"/>
<path d="M334.13,155.16 L342.13,155.16 L342.13,152.96 C341.93,150.96 339.93,148.16 338.13,148.16 C336.33,148.16 334.33,150.96 334.13,152.96 Z" fill="url(#gBolt)" stroke="#3e3e3e" stroke-width="0.55"/>
<path d="M335.03,152.76 L341.23,152.76" stroke="#8e8e8e" stroke-width="0.6"/>
<path d="M354.9,205 L354.9,246 A11,4.2 -8.28 0 0 376.9,242.8 L376.9,205 Z" fill="url(#gOr)"/>
<path d="M351.2,201 L354.9,210 A11,3.4 0 0 0 376.9,210 L381.2,201 Z" fill="url(#gGreen)"/>
<path d="M345.17,201.74 L351.77,201.74 L349.77,208.04 L347.17,208.04 Z" fill="#5e5e5e" stroke="#3a3a3a" stroke-width="0.5"/>
<path d="M352.58,205.61 L359.18,205.61 L357.18,211.91 L354.58,211.91 Z" fill="#5e5e5e" stroke="#3a3a3a" stroke-width="0.5"/>
<path d="M366.03,206.61 L372.63,206.61 L370.63,212.91 L368.03,212.91 Z" fill="#5e5e5e" stroke="#3a3a3a" stroke-width="0.5"/>
<path d="M377.64,204.14 L384.24,204.14 L382.24,210.44 L379.64,210.44 Z" fill="#5e5e5e" stroke="#3a3a3a" stroke-width="0.5"/>
<path d="M380.63,199.66 L387.23,199.66 L385.23,205.96 L382.63,205.96 Z" fill="#5e5e5e" stroke="#3a3a3a" stroke-width="0.5"/>
<path d="M343.9,195 L343.9,201 A22.3,6.1 0 0 0 388.5,201 L388.5,195 Z" fill="url(#gGreen)"/>
<path d="M343.9,201 A22.3,6.1 0 0 0 388.5,201" fill="none" stroke="#1e8a1e" stroke-width="0.6"/>
<path d="M343.9,189 L343.9,195 A22.3,6.1 0 0 0 388.5,195 L388.5,189 Z" fill="url(#gBrSide)"/>
<ellipse cx="366.2" cy="189" rx="22.3" ry="6.1" fill="#7a5810"/>
<path d="M359.07,184.64 L367.07,184.64 L367.07,182.44 C366.87,180.44 364.87,177.64 363.07,177.64 C361.27,177.64 359.27,180.44 359.07,182.44 Z" fill="url(#gBolt)" stroke="#3e3e3e" stroke-width="0.55"/>
<path d="M359.97,182.24 L366.17,182.24" stroke="#8e8e8e" stroke-width="0.6"/>
<path d="M372.52,185.64 L380.52,185.64 L380.52,183.44 C380.32,181.44 378.32,178.64 376.52,178.64 C374.72,178.64 372.72,181.44 372.52,183.44 Z" fill="url(#gBolt)" stroke="#3e3e3e" stroke-width="0.55"/>
<path d="M373.42,183.24 L379.62,183.24" stroke="#8e8e8e" stroke-width="0.6"/>
<path d="M347.46,187.11 L355.46,187.11 L355.46,184.91 C355.26,182.91 353.26,180.11 351.46,180.11 C349.66,180.11 347.66,182.91 347.46,184.91 Z" fill="url(#gBolt)" stroke="#3e3e3e" stroke-width="0.55"/>
<path d="M348.36,184.71 L354.56,184.71" stroke="#8e8e8e" stroke-width="0.6"/>
<path d="M379.93,189.51 L387.93,189.51 L387.93,187.31 C387.73,185.31 385.73,182.51 383.93,182.51 C382.13,182.51 380.13,185.31 379.93,187.31 Z" fill="url(#gBolt)" stroke="#3e3e3e" stroke-width="0.55"/>
<path d="M380.83,187.11 L387.03,187.11" stroke="#8e8e8e" stroke-width="0.6"/>
<path d="M344.47,191.59 L352.47,191.59 L352.47,189.39 C352.27,187.39 350.27,184.59 348.47,184.59 C346.67,184.59 344.67,187.39 344.47,189.39 Z" fill="url(#gBolt)" stroke="#3e3e3e" stroke-width="0.55"/>
<path d="M345.37,189.19 L351.57,189.19" stroke="#8e8e8e" stroke-width="0.6"/>
<path d="M376.94,193.99 L384.94,193.99 L384.94,191.79 C384.74,189.79 382.74,186.99 380.94,186.99 C379.14,186.99 377.14,189.79 376.94,191.79 Z" fill="url(#gBolt)" stroke="#3e3e3e" stroke-width="0.55"/>
<path d="M377.84,191.59 L384.04,191.59" stroke="#8e8e8e" stroke-width="0.6"/>
<path d="M351.88,195.46 L359.88,195.46 L359.88,193.26 C359.68,191.26 357.68,188.46 355.88,188.46 C354.08,188.46 352.08,191.26 351.88,193.26 Z" fill="url(#gBolt)" stroke="#3e3e3e" stroke-width="0.55"/>
<path d="M352.78,193.06 L358.98,193.06" stroke="#8e8e8e" stroke-width="0.6"/>
<path d="M365.33,196.46 L373.33,196.46 L373.33,194.26 C373.13,192.26 371.13,189.46 369.33,189.46 C367.53,189.46 365.53,192.26 365.33,194.26 Z" fill="url(#gBolt)" stroke="#3e3e3e" stroke-width="0.55"/>
<path d="M366.23,194.06 L372.43,194.06" stroke="#8e8e8e" stroke-width="0.6"/>
<path d="M203.5,156.3 L203.5,222 C204.5,232 211,239.5 219.2,239.5 C232,239.5 252,222 267,213 L267,156.3 Z" fill="url(#gMag)"/>
<ellipse cx="235.25" cy="156.3" rx="31.75" ry="10.3" fill="#f484f4"/>
<ellipse cx="235.6" cy="157" rx="29.7" ry="8.5" fill="#a8a8a8"/>
<path d="M84.2,76.4 L89,76.4 L102.5,109.3" fill="none" stroke="#e8383a" stroke-width="0.75"/>
<path d="M102.5,109.3 L99.37,104.96 L101.68,104.01 Z" fill="#e8383a"/>
<path d="M82.6,98.2 L87.7,98.2 L99.7,123.2" fill="none" stroke="#e8383a" stroke-width="0.75"/>
<path d="M99.7,123.2 L96.32,119.05 L98.58,117.97 Z" fill="#e8383a"/>
<path d="M47.5,123.5 L52,123.5 L81,130.7" fill="none" stroke="#e8383a" stroke-width="0.75"/>
<path d="M81,130.7 L75.65,130.66 L76.25,128.23 Z" fill="#e8383a"/>
<path d="M65.2,153.7 L69.5,153.7 L99.5,160.2" fill="none" stroke="#e8383a" stroke-width="0.75"/>
<path d="M99.5,160.2 L94.15,160.32 L94.68,157.88 Z" fill="#e8383a"/>
<path d="M35,190 L39,190 L57.6,195.2" fill="none" stroke="#e8383a" stroke-width="0.75"/>
<path d="M57.6,195.2 L52.26,195 L52.93,192.6 Z" fill="#e8383a"/>
<path d="M157.2,74 L152,74 L137.9,94.6" fill="none" stroke="#e8383a" stroke-width="0.75"/>
<path d="M137.9,94.6 L139.81,89.6 L141.87,91.01 Z" fill="#e8383a"/>
<path d="M180.8,89.2 L176,89.2 L153.5,97.5" fill="none" stroke="#e8383a" stroke-width="0.75"/>
<path d="M153.5,97.5 L157.95,94.53 L158.81,96.87 Z" fill="#e8383a"/>
<path d="M179,113.8 L174,113.8 L158.3,108.5" fill="none" stroke="#e8383a" stroke-width="0.75"/>
<path d="M158.3,108.5 L163.63,108.98 L162.83,111.35 Z" fill="#e8383a"/>
<path d="M167.2,151.4 L163,151.4 L135.3,143.5" fill="none" stroke="#e8383a" stroke-width="0.75"/>
<path d="M135.3,143.5 L140.64,143.72 L139.96,146.13 Z" fill="#e8383a"/>
<path d="M209.6,131 L214,131 L230,156.4" fill="none" stroke="#e8383a" stroke-width="0.75"/>
<path d="M230,156.4 L226.17,152.67 L228.29,151.33 Z" fill="#e8383a"/>
<path d="M270.8,129.6 L265,129.6 L237,180" fill="none" stroke="#e8383a" stroke-width="0.75"/>
<path d="M237,180 L238.43,174.85 L240.62,176.06 Z" fill="#e8383a"/>
<path d="M294,164.6 L298,164.6 L311.3,157.7" fill="none" stroke="#e8383a" stroke-width="0.75"/>
<path d="M311.3,157.7 L307.26,161.2 L306.11,158.99 Z" fill="#e8383a"/>
<path d="M294.5,190 L299,190 L329,197.6" fill="none" stroke="#e8383a" stroke-width="0.75"/>
<path d="M329,197.6 L323.65,197.53 L324.27,195.11 Z" fill="#e8383a"/>
<path d="M354.4,119.1 L350,119.1 L332.1,147.3" fill="none" stroke="#e8383a" stroke-width="0.75"/>
<path d="M332.1,147.3 L333.83,142.24 L335.94,143.58 Z" fill="#e8383a"/>
<path d="M379.6,128.5 L375,128.5 L355.8,143.8" fill="none" stroke="#e8383a" stroke-width="0.75"/>
<path d="M355.8,143.8 L359.09,139.58 L360.65,141.54 Z" fill="#e8383a"/>
<path d="M385.6,158.6 L381,158.6 L361.8,189.3" fill="none" stroke="#e8383a" stroke-width="0.75"/>
<path d="M361.8,189.3 L363.5,184.23 L365.62,185.55 Z" fill="#e8383a"/>
<path d="M406.3,175.4 L401,175.4 L382.6,190.5" fill="none" stroke="#e8383a" stroke-width="0.75"/>
<path d="M382.6,190.5 L385.83,186.23 L387.41,188.17 Z" fill="#e8383a"/>
<path d="M407,207.2 L402,207.2 L386.6,202.6" fill="none" stroke="#e8383a" stroke-width="0.75"/>
<path d="M386.6,202.6 L391.94,202.89 L391.22,205.29 Z" fill="#e8383a"/>
<path d="M400.3,232.4 L396,232.4 L371.8,224" fill="none" stroke="#e8383a" stroke-width="0.75"/>
<path d="M371.8,224 L377.12,224.52 L376.3,226.89 Z" fill="#e8383a"/>
<path d="M425.5,294.1 L421,294.1 L400,286.4" fill="none" stroke="#e8383a" stroke-width="0.75"/>
<path d="M400,286.4 L405.31,287.02 L404.45,289.36 Z" fill="#e8383a"/>
<path d="M78.2,295.3 L83,295.3 L102.8,263.5" fill="none" stroke="#e8383a" stroke-width="0.75"/>
<path d="M102.8,263.5 L101.11,268.57 L98.99,267.25 Z" fill="#e8383a"/>
<path d="M110.8,313 L116,313 L132.8,283.2" fill="none" stroke="#e8383a" stroke-width="0.75"/>
<path d="M132.8,283.2 L131.34,288.34 L129.16,287.12 Z" fill="#e8383a"/>
<path d="M166.3,301.8 L162,301.8 L146.3,276.5" fill="none" stroke="#e8383a" stroke-width="0.75"/>
<path d="M146.3,276.5 L150.1,280.26 L147.98,281.58 Z" fill="#e8383a"/>
<path d="M221.1,303 L226.7,303 L247.2,266.7" fill="none" stroke="#e8383a" stroke-width="0.75"/>
<path d="M247.2,266.7 L245.73,271.84 L243.55,270.61 Z" fill="#e8383a"/>
<path d="M300.1,332.8 L305,332.8 L327.4,319.7" fill="none" stroke="#e8383a" stroke-width="0.75"/>
<path d="M327.4,319.7 L323.54,323.4 L322.28,321.25 Z" fill="#e8383a"/>
<path d="M399.7,342.2 L395,342.2 L373,330.5" fill="none" stroke="#e8383a" stroke-width="0.75"/>
<path d="M373,330.5 L378.18,331.84 L377,334.05 Z" fill="#e8383a"/>
<circle cx="45.4" cy="76.4" r="7.6" fill="#ffffff" stroke="#ec5050" stroke-width="0.8"/>
<text transform="translate(45.4,79.85) scale(0.86,1)" x="0" y="0" font-family="Liberation Sans, sans-serif" font-size="9.6" fill="#e8383a" stroke="#e8383a" stroke-width="0.35" text-anchor="middle">12</text>
<circle cx="61.1" cy="76.4" r="7.6" fill="#ffffff" stroke="#ec5050" stroke-width="0.8"/>
<text transform="translate(61.1,79.85) scale(0.86,1)" x="0" y="0" font-family="Liberation Sans, sans-serif" font-size="9.6" fill="#e8383a" stroke="#e8383a" stroke-width="0.35" text-anchor="middle">11</text>
<circle cx="76.8" cy="76.4" r="7.6" fill="#ffffff" stroke="#ec5050" stroke-width="0.8"/>
<text transform="translate(76.8,79.85) scale(0.86,1)" x="0" y="0" font-family="Liberation Sans, sans-serif" font-size="9.6" fill="#e8383a" stroke="#e8383a" stroke-width="0.35" text-anchor="middle">10</text>
<circle cx="75.6" cy="98.1" r="7.6" fill="#ffffff" stroke="#ec5050" stroke-width="0.8"/>
<text transform="translate(75.6,101.55) scale(0.86,1)" x="0" y="0" font-family="Liberation Sans, sans-serif" font-size="9.6" fill="#e8383a" stroke="#e8383a" stroke-width="0.35" text-anchor="middle">9</text>
<circle cx="40" cy="123.5" r="7.6" fill="#ffffff" stroke="#ec5050" stroke-width="0.8"/>
<text transform="translate(40,126.95) scale(0.86,1)" x="0" y="0" font-family="Liberation Sans, sans-serif" font-size="9.6" fill="#e8383a" stroke="#e8383a" stroke-width="0.35" text-anchor="middle">8</text>
<circle cx="57.6" cy="153.7" r="7.6" fill="#ffffff" stroke="#ec5050" stroke-width="0.8"/>
<text transform="translate(57.6,157.15) scale(0.86,1)" x="0" y="0" font-family="Liberation Sans, sans-serif" font-size="9.6" fill="#e8383a" stroke="#e8383a" stroke-width="0.35" text-anchor="middle">4</text>
<circle cx="27.5" cy="190" r="7.6" fill="#ffffff" stroke="#ec5050" stroke-width="0.8"/>
<text transform="translate(27.5,193.45) scale(0.86,1)" x="0" y="0" font-family="Liberation Sans, sans-serif" font-size="9.6" fill="#e8383a" stroke="#e8383a" stroke-width="0.35" text-anchor="middle">5</text>
<circle cx="164.6" cy="74" r="7.6" fill="#ffffff" stroke="#ec5050" stroke-width="0.8"/>
<text transform="translate(164.6,77.45) scale(0.86,1)" x="0" y="0" font-family="Liberation Sans, sans-serif" font-size="9.6" fill="#e8383a" stroke="#e8383a" stroke-width="0.35" text-anchor="middle">9</text>
<circle cx="188.2" cy="89.2" r="7.6" fill="#ffffff" stroke="#ec5050" stroke-width="0.8"/>
<text transform="translate(188.2,92.65) scale(0.86,1)" x="0" y="0" font-family="Liberation Sans, sans-serif" font-size="9.6" fill="#e8383a" stroke="#e8383a" stroke-width="0.35" text-anchor="middle">10</text>
<circle cx="204" cy="89.2" r="7.6" fill="#ffffff" stroke="#ec5050" stroke-width="0.8"/>
<text transform="translate(204,92.65) scale(0.86,1)" x="0" y="0" font-family="Liberation Sans, sans-serif" font-size="9.6" fill="#e8383a" stroke="#e8383a" stroke-width="0.35" text-anchor="middle">11</text>
<circle cx="219.6" cy="89.2" r="7.6" fill="#ffffff" stroke="#ec5050" stroke-width="0.8"/>
<text transform="translate(219.6,92.65) scale(0.86,1)" x="0" y="0" font-family="Liberation Sans, sans-serif" font-size="9.6" fill="#e8383a" stroke="#e8383a" stroke-width="0.35" text-anchor="middle">12</text>
<circle cx="186.4" cy="113.8" r="7.6" fill="#ffffff" stroke="#ec5050" stroke-width="0.8"/>
<text transform="translate(186.4,117.25) scale(0.86,1)" x="0" y="0" font-family="Liberation Sans, sans-serif" font-size="9.6" fill="#e8383a" stroke="#e8383a" stroke-width="0.35" text-anchor="middle">8</text>
<circle cx="174.8" cy="151.4" r="7.6" fill="#ffffff" stroke="#ec5050" stroke-width="0.8"/>
<text transform="translate(174.8,154.85) scale(0.86,1)" x="0" y="0" font-family="Liberation Sans, sans-serif" font-size="9.6" fill="#e8383a" stroke="#e8383a" stroke-width="0.35" text-anchor="middle">4</text>
<circle cx="202.2" cy="131" r="7.6" fill="#ffffff" stroke="#ec5050" stroke-width="0.8"/>
<text transform="translate(202.2,134.45) scale(0.86,1)" x="0" y="0" font-family="Liberation Sans, sans-serif" font-size="9.6" fill="#e8383a" stroke="#e8383a" stroke-width="0.35" text-anchor="middle">6</text>
<circle cx="278.2" cy="129.6" r="7.6" fill="#ffffff" stroke="#ec5050" stroke-width="0.8"/>
<text transform="translate(278.2,133.05) scale(0.86,1)" x="0" y="0" font-family="Liberation Sans, sans-serif" font-size="9.6" fill="#e8383a" stroke="#e8383a" stroke-width="0.35" text-anchor="middle">2</text>
<circle cx="286.3" cy="164.6" r="7.6" fill="#ffffff" stroke="#ec5050" stroke-width="0.8"/>
<text transform="translate(286.3,168.05) scale(0.86,1)" x="0" y="0" font-family="Liberation Sans, sans-serif" font-size="9.6" fill="#e8383a" stroke="#e8383a" stroke-width="0.35" text-anchor="middle">8</text>
<circle cx="287.1" cy="190" r="7.6" fill="#ffffff" stroke="#ec5050" stroke-width="0.8"/>
<text transform="translate(287.1,193.45) scale(0.86,1)" x="0" y="0" font-family="Liberation Sans, sans-serif" font-size="9.6" fill="#e8383a" stroke="#e8383a" stroke-width="0.35" text-anchor="middle">4</text>
<circle cx="361.8" cy="119.1" r="7.6" fill="#ffffff" stroke="#ec5050" stroke-width="0.8"/>
<text transform="translate(361.8,122.55) scale(0.86,1)" x="0" y="0" font-family="Liberation Sans, sans-serif" font-size="9.6" fill="#e8383a" stroke="#e8383a" stroke-width="0.35" text-anchor="middle">9</text>
<circle cx="387" cy="128.5" r="7.6" fill="#ffffff" stroke="#ec5050" stroke-width="0.8"/>
<text transform="translate(387,131.95) scale(0.86,1)" x="0" y="0" font-family="Liberation Sans, sans-serif" font-size="9.6" fill="#e8383a" stroke="#e8383a" stroke-width="0.35" text-anchor="middle">10</text>
<circle cx="403" cy="128.5" r="7.6" fill="#ffffff" stroke="#ec5050" stroke-width="0.8"/>
<text transform="translate(403,131.95) scale(0.86,1)" x="0" y="0" font-family="Liberation Sans, sans-serif" font-size="9.6" fill="#e8383a" stroke="#e8383a" stroke-width="0.35" text-anchor="middle">11</text>
<circle cx="418.8" cy="128.5" r="7.6" fill="#ffffff" stroke="#ec5050" stroke-width="0.8"/>
<text transform="translate(418.8,131.95) scale(0.86,1)" x="0" y="0" font-family="Liberation Sans, sans-serif" font-size="9.6" fill="#e8383a" stroke="#e8383a" stroke-width="0.35" text-anchor="middle">12</text>
<circle cx="393" cy="158.6" r="7.6" fill="#ffffff" stroke="#ec5050" stroke-width="0.8"/>
<text transform="translate(393,162.05) scale(0.86,1)" x="0" y="0" font-family="Liberation Sans, sans-serif" font-size="9.6" fill="#e8383a" stroke="#e8383a" stroke-width="0.35" text-anchor="middle">9</text>
<circle cx="413.7" cy="175.4" r="7.6" fill="#ffffff" stroke="#ec5050" stroke-width="0.8"/>
<text transform="translate(413.7,178.85) scale(0.86,1)" x="0" y="0" font-family="Liberation Sans, sans-serif" font-size="9.6" fill="#e8383a" stroke="#e8383a" stroke-width="0.35" text-anchor="middle">10</text>
<circle cx="428.8" cy="175.4" r="7.6" fill="#ffffff" stroke="#ec5050" stroke-width="0.8"/>
<text transform="translate(428.8,178.85) scale(0.86,1)" x="0" y="0" font-family="Liberation Sans, sans-serif" font-size="9.6" fill="#e8383a" stroke="#e8383a" stroke-width="0.35" text-anchor="middle">11</text>
<circle cx="443.9" cy="175.4" r="7.6" fill="#ffffff" stroke="#ec5050" stroke-width="0.8"/>
<text transform="translate(443.9,178.85) scale(0.86,1)" x="0" y="0" font-family="Liberation Sans, sans-serif" font-size="9.6" fill="#e8383a" stroke="#e8383a" stroke-width="0.35" text-anchor="middle">12</text>
<circle cx="414.4" cy="207.2" r="7.6" fill="#ffffff" stroke="#ec5050" stroke-width="0.8"/>
<text transform="translate(414.4,210.65) scale(0.86,1)" x="0" y="0" font-family="Liberation Sans, sans-serif" font-size="9.6" fill="#e8383a" stroke="#e8383a" stroke-width="0.35" text-anchor="middle">8</text>
<circle cx="407.7" cy="232.4" r="7.6" fill="#ffffff" stroke="#ec5050" stroke-width="0.8"/>
<text transform="translate(407.7,235.85) scale(0.86,1)" x="0" y="0" font-family="Liberation Sans, sans-serif" font-size="9.6" fill="#e8383a" stroke="#e8383a" stroke-width="0.35" text-anchor="middle">4</text>
<circle cx="432.9" cy="294.1" r="7.6" fill="#ffffff" stroke="#ec5050" stroke-width="0.8"/>
<text transform="translate(432.9,297.55) scale(0.86,1)" x="0" y="0" font-family="Liberation Sans, sans-serif" font-size="9.6" fill="#e8383a" stroke="#e8383a" stroke-width="0.35" text-anchor="middle">5</text>
<circle cx="70.8" cy="295.3" r="7.6" fill="#ffffff" stroke="#ec5050" stroke-width="0.8"/>
<text transform="translate(70.8,298.75) scale(0.86,1)" x="0" y="0" font-family="Liberation Sans, sans-serif" font-size="9.6" fill="#e8383a" stroke="#e8383a" stroke-width="0.35" text-anchor="middle">3</text>
<circle cx="103.4" cy="313" r="7.6" fill="#ffffff" stroke="#ec5050" stroke-width="0.8"/>
<text transform="translate(103.4,316.45) scale(0.86,1)" x="0" y="0" font-family="Liberation Sans, sans-serif" font-size="9.6" fill="#e8383a" stroke="#e8383a" stroke-width="0.35" text-anchor="middle">7</text>
<circle cx="173.7" cy="301.8" r="7.6" fill="#ffffff" stroke="#ec5050" stroke-width="0.8"/>
<text transform="translate(173.7,305.25) scale(0.86,1)" x="0" y="0" font-family="Liberation Sans, sans-serif" font-size="9.6" fill="#e8383a" stroke="#e8383a" stroke-width="0.35" text-anchor="middle">3</text>
<circle cx="213.7" cy="303" r="7.6" fill="#ffffff" stroke="#ec5050" stroke-width="0.8"/>
<text transform="translate(213.7,306.45) scale(0.86,1)" x="0" y="0" font-family="Liberation Sans, sans-serif" font-size="9.6" fill="#e8383a" stroke="#e8383a" stroke-width="0.35" text-anchor="middle">1</text>
<circle cx="292.7" cy="332.8" r="7.6" fill="#ffffff" stroke="#ec5050" stroke-width="0.8"/>
<text transform="translate(292.7,336.25) scale(0.86,1)" x="0" y="0" font-family="Liberation Sans, sans-serif" font-size="9.6" fill="#e8383a" stroke="#e8383a" stroke-width="0.35" text-anchor="middle">3</text>
<circle cx="407.1" cy="342.2" r="7.6" fill="#ffffff" stroke="#ec5050" stroke-width="0.8"/>
<text transform="translate(407.1,345.65) scale(0.86,1)" x="0" y="0" font-family="Liberation Sans, sans-serif" font-size="9.6" fill="#e8383a" stroke="#e8383a" stroke-width="0.35" text-anchor="middle">3</text>
</svg>
</div></body></html>
